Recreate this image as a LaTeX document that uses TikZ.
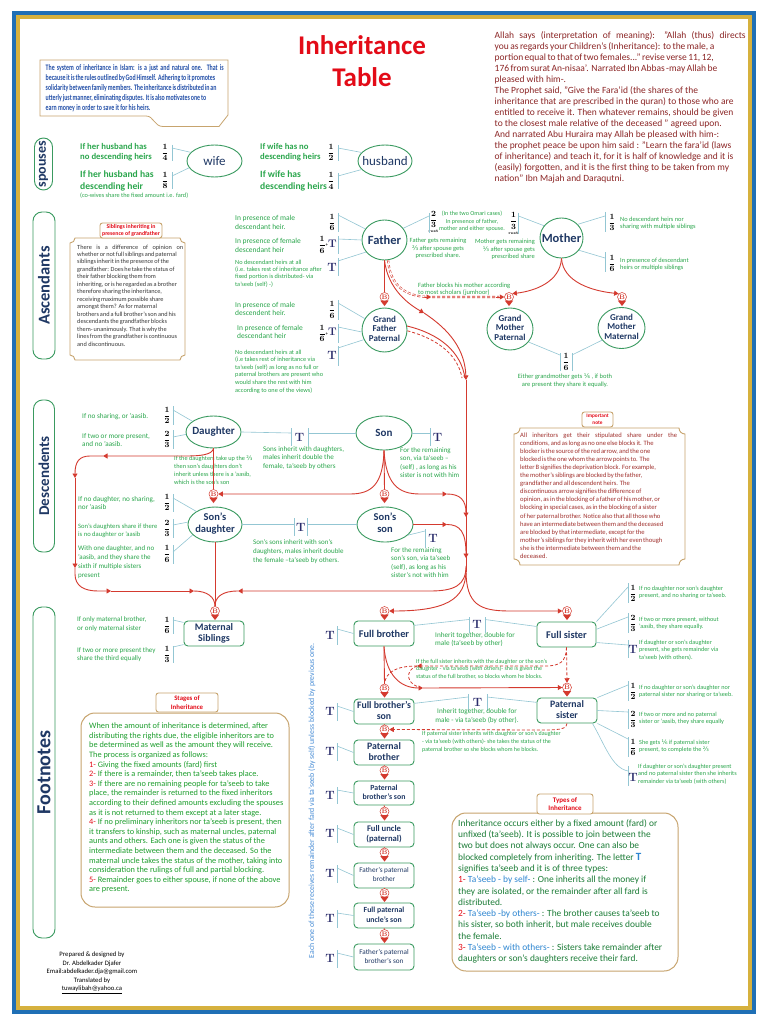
\documentclass[tikz,border=0pt]{standalone}
\usepackage{fontspec}
\setsansfont{Carlito}
\newfontfamily\myDV{DejaVu Sans}
\newfontfamily\myCond[FakeStretch=0.7]{Carlito}
\usetikzlibrary{arrows.meta,shapes.geometric}
\definecolor{navy}{HTML}{1F3864}
\definecolor{gtxt}{HTML}{2AA64C}
\definecolor{sgreen}{HTML}{1E9E2E}
\definecolor{tgreen}{HTML}{1C7C37}
\definecolor{gborder}{HTML}{3A9A60}
\definecolor{lblue}{HTML}{93C6D3}
\definecolor{rarrow}{HTML}{D43A2F}
\definecolor{tanc}{HTML}{C7A46E}
\definecolor{dred}{HTML}{8B2525}
\definecolor{nred}{HTML}{A0302D}
\definecolor{ttl}{HTML}{E30B17}
\definecolor{vblue}{HTML}{4A8ED6}
\definecolor{introblue}{HTML}{2450A8}
\definecolor{tblue}{HTML}{2E86D1}
\definecolor{tcol}{HTML}{2A2C6B}
\definecolor{txtgray}{HTML}{3A3A3A}
\definecolor{frblue}{HTML}{1F6FB5}
\definecolor{frgold}{HTML}{D6B13E}
\newcommand\myfs[2]{\fontsize{#1}{#2}\selectfont}
\newcommand\myT[1][12]{{\normalfont\bfseries\fontsize{#1}{#1}\selectfont T}}
\newlength\myjw
\newcommand\myjl[1]{\makebox[\myjw][s]{#1}\\}
\newcommand\myzb[1]{\makebox[0pt]{\begin{tabular}{@{}c@{}}#1\end{tabular}}}
\newcommand\myfrac[2]{{\myfs{8}{8}\boldmath$\displaystyle\frac{#1}{#2}$}}
\newcommand\myFr[4]{\node[frc] (#1) at (#2) {\myfrac{#3}{#4}};}
\newcommand\myFrT[2]{\node[frc, anchor=east] (#1) at (#2) {\myfrac{1}{6}\raisebox{0.5pt}{\sffamily\myfs{5}{5}+}\textcolor{tcol}{\myT[11]}};}
\newcommand\myB[2]{\node[bmk] (#1) at (#2) {B};\fill[rarrow] ([xshift=-4.2pt,yshift=1.2pt]#1.south) -- ([xshift=4.2pt,yshift=1.2pt]#1.south) -- ([yshift=-4.3pt]#1.south) -- cycle;}
\newcommand\mybar[3]{\draw[cn] (#1,#2) -- (#1,#3);}
\newcommand\mynotch[5]{\draw[tanc, line width=0.9pt] ({#1+#5},#2) -- ({#3-#5},#2) .. controls ({#3-#5},{#2+0.55*#5}) and ({#3-0.55*#5},{#2+#5}) .. (#3,{#2+#5}) -- (#3,{#4-#5}) .. controls ({#3-0.55*#5},{#4-#5}) and ({#3-#5},{#4-0.55*#5}) .. ({#3-#5},#4) -- ({#1+#5},#4) .. controls ({#1+#5},{#4-0.55*#5}) and ({#1+0.55*#5},{#4-#5}) .. (#1,{#4-#5}) -- (#1,{#2+#5}) .. controls ({#1+0.55*#5},{#2+#5}) and ({#1+#5},{#2+0.55*#5}) .. ({#1+#5},#2) -- cycle;}
\tikzset{
 heir/.style={ellipse, draw=gborder, line width=0.9pt, fill=white, text=navy, inner sep=0pt, align=center},
 hbox/.style={rectangle, rounded corners=4pt, draw=gborder, line width=0.9pt, fill=white, text=navy, inner sep=0pt, align=center, minimum width=60pt, minimum height=25pt},
 cn/.style={lblue, line width=0.6pt},
 gt/.style={anchor=north west, inner sep=0pt, align=left, text=gtxt},
 frc/.style={inner sep=0pt, text=black},
 tnode/.style={inner sep=0pt, text=tcol},
 rl/.style={rarrow, line width=0.9pt},
 ra/.style={rarrow, line width=0.9pt, -{Triangle[width=5pt,length=4.5pt]}},
 rd/.style={rarrow, line width=0.8pt, dash pattern=on 3pt off 2pt},
 rda/.style={rd, -{Triangle[width=5pt,length=4.5pt]}},
 bmk/.style={circle, draw=rarrow, line width=0.5pt, fill=white, text=rarrow, inner sep=0pt, minimum size=9pt, font=\normalfont\bfseries\fontsize{6.5}{6.5}\selectfont},
 secbox/.style={draw=gborder, line width=0.9pt, rounded corners=9pt, text=navy, rotate=90, inner sep=0pt},
 lbl/.style={draw=tanc, line width=0.9pt, fill=white, rounded corners=2.5pt, text=ttl, align=center, inner sep=0pt},
}
\begin{document}
\begin{tikzpicture}[x=1pt,y=-1pt]
\useasboundingbox (0,0) rectangle (768,1024);
\fill[white] (0,0) rectangle (768,1024);
% frame
\draw[frblue, line width=4pt] (14,13) rectangle (754,1012);
\draw[frgold, line width=2.6pt] (17.3,16.3) rectangle (750.7,1008.7);
\draw[frgold, line width=0.9pt] (19.7,18.6) rectangle (748.3,1006.4);
% title
\node[inner sep=0, align=center, text=ttl, font=\sffamily\bfseries\myfs{27}{32}] (title) at (362,61) {Inheritance\\Table};
% intro
\draw[tanc, line width=0.8pt] (40,60) -- (228,60) -- (228,115) -- (219,126.5) -- (163,126.5) .. controls (154,126.5) and (154,116) .. (146,116) -- (40,116) -- cycle;
\node[anchor=north west, inner sep=0, align=left, text=introblue, font=\myCond\bfseries\myfs{8.4}{10.1}] (intro) at (45.5,64.5) {\setlength\myjw{178pt}\myjl{The system of inheritance in Islam: is a just and natural one. That is}\myjl{because it is the rules outlined by God Himself. Adhering to it promotes}\myjl{solidarity between family members. The inheritance is distributed in an}\myjl{utterly just manner, eliminating disputes. It is also motivates one to}earn money in order to save it for his heirs.};
% quote
\node[anchor=north west, inner sep=0, align=left, text=dred, font=\sffamily\myfs{9.5}{11}] (quote) at (494.5,31.2) {\setlength\myjw{251pt}\myjl{Allah says (interpretation of meaning): "Allah (thus) directs}\myjl{you as regards your Children's (Inheritance): to the male, a}\myjl{portion equal to that of two females..." revise verse 11, 12,}\myjl{176 from surat An-nisaa'. Narrated Ibn Abbas -may Allah be}pleased with him-.\\The Prophet said, "Give the Fara'id (the shares of the\\inheritance that are prescribed in the quran) to those who are\\entitled to receive it. Then whatever remains, should be given\\to the closest male relative of the deceased " agreed upon.\\And narrated Abu Huraira may Allah be pleased with him-:\\the prophet peace be upon him said : "Learn the fara'id (laws\\of inheritance) and teach it, for it is half of knowledge and it is\\(easily) forgotten, and it is the first thing to be taken from my\\nation" Ibn Majah and Daraqutni.};
% section boxes
\node[secbox, minimum width=52pt, minimum height=18pt, font=\sffamily\bfseries\myfs{14}{14}] (spouses) at (43.5,164) {spouses};
\node[secbox, minimum width=147pt, minimum height=22pt, font=\sffamily\bfseries\myfs{16.5}{16.5}] (ascend) at (44,285.5) {Ascendants};
\node[secbox, minimum width=152pt, minimum height=21pt, font=\sffamily\bfseries\myfs{15}{15}] (descend) at (44,476) {Descendents};
\node[secbox, minimum width=331pt, minimum height=22pt, font=\sffamily\bfseries\myfs{20}{20}] (foot) at (44,772.5) {Footnotes};
% spouses
\node[gt, font=\sffamily\bfseries\myfs{8.7}{10}] (tw1) at (80,143.5) {If her husband has\\no descending heirs};
\node[gt, font=\sffamily\bfseries\myfs{9.6}{12}] (tw2) at (80,170.2) {If her husband has\\descending heir};
\node[gt, font=\sffamily\myfs{6.3}{7}] (tw3) at (80,192.5) {(co-wives share the fixed amount i.e. fard)};
\myFr{fw1}{165,152.5}{1}{4}
\myFr{fw2}{165,180.5}{1}{8}
\mybar{172}{145}{161}
\mybar{172}{172}{189}
\node[heir, minimum width=55pt, minimum height=32pt, font=\sffamily\myfs{13}{13}] (wife) at (214.5,161) {\makebox[0pt]{wife}};
\draw[cn] (172,148) -- (wife.160);
\draw[cn] (172,176) -- (wife.195);
\node[gt, font=\sffamily\bfseries\myfs{8.7}{10}] (th1) at (260,143.5) {If wife has no\\descending heirs};
\node[gt, font=\sffamily\bfseries\myfs{9.6}{12}] (th2) at (260,170.2) {If wife has\\descending heirs};
\myFr{fh1}{331,152.5}{1}{2}
\myFr{fh2}{331,181}{1}{4}
\mybar{338}{145}{161}
\mybar{338}{173}{189}
\node[heir, minimum width=54pt, minimum height=32pt, font=\sffamily\myfs{13}{13}] (husband) at (385,161) {\makebox[0pt]{husband}};
\draw[cn] (338,148) -- (husband.160);
\draw[cn] (338,176) -- (husband.200);
% siblings box
\mynotch{70}{238}{185}{360}{5}
\node[lbl, minimum width=62pt, minimum height=15pt, font=\sffamily\bfseries\myfs{5.8}{6.5}] (siblbl) at (131,230.5) {Siblings inheriting in\\presence of grandfather};
\node[anchor=north west, inner sep=0, align=left, text=txtgray, font=\sffamily\myfs{6.3}{7.46}] (sibtxt) at (77,244.5) {\setlength\myjw{106pt}\myjl{There is a difference of opinion on}\myjl{whether or not full siblings and paternal}\myjl{siblings inherit in the presence of the}\myjl{grandfather: Does he take the status of}\myjl{their father blocking them from}\myjl{inheriting, or is he regarded as a brother}\myjl{therefore sharing the inheritance,}\myjl{receiving maximum possible share}\myjl{amongst them? As for maternal}\myjl{brothers and a full brother's son and his}\myjl{descendants the grandfather blocks}\myjl{them- unanimously. That is why the}\myjl{lines from the grandfather is continuous}and discontinuous.};
% father
\node[gt, font=\sffamily\myfs{7.5}{8.8}] (tf1) at (235,215) {In presence of male\\descendant heir.};
\node[gt, font=\sffamily\myfs{7.5}{8.8}] (tf2) at (235,238) {In presence of female\\descendant heir};
\node[gt, font=\sffamily\myfs{6.3}{7.4}] (tf3) at (235,259.5) {No descendant heirs at all\\(i.e. takes rest of inheritance after\\fixed portion is distributed- via\\ta'seeb (self) -)};
\myFr{ff1}{332,222.5}{1}{6}
\myFrT{ff2}{337,245}
\node[tnode] (Tf3) at (332,267) {\myT};
\mybar{338}{213}{232}
\mybar{338}{236}{254}
\mybar{338}{258}{276}
\node[heir, minimum width=45pt, minimum height=40pt, font=\sffamily\bfseries\myfs{12.5}{12}] (father) at (384.5,240) {\makebox[0pt]{Father}};
\draw[cn] (338,215) -- (father.150);
\draw[cn] (338,239) -- (father.180);
\draw[cn] (338,261) -- (father.213);
\node[inner sep=0, align=center, text=gtxt, font=\sffamily\myfs{6.1}{7.5}] (omari) at (472,221.5) {(In the two Omari cases)\\In presence of father,\\mother and either spouse.};
\myFr{fo1}{433.5,219.5}{2}{3}
\node[inner sep=0, font=\normalfont\bfseries\myfs{4}{4}] (rest1) at (433.5,231.5) {rest};
\mybar{429}{213}{233}
\draw[cn] (father.32) -- (429,216);
\node[inner sep=0, align=center, text=gtxt, font=\sffamily\myfs{6.4}{7.6}] (fgets) at (438,248.5) {Father gets remaining\\{\myDV ⅔} after spouse gets\\prescribed share.};
\node[inner sep=0, align=right, anchor=east, text=gtxt, font=\sffamily\myfs{6.4}{7.6}] (mgets) at (535,249.5) {Mother gets remaining\\{\myDV ⅓} after spouse gets\\prescribed share};
\myFr{fm0}{513.5,221}{1}{3}
\node[inner sep=0, font=\normalfont\bfseries\myfs{4}{4}] (rest2) at (513.5,233) {rest};
\mybar{518.5}{213}{234}
\node[heir, minimum width=43pt, minimum height=40pt, font=\sffamily\bfseries\myfs{12.5}{12}] (mother) at (561.5,238) {\makebox[0pt]{Mother}};
\draw[cn] (518.5,216) -- (mother.145);
\mybar{605}{212}{232}
\mybar{605}{252}{272}
\myFr{fm1}{612,222.5}{1}{3}
\myFr{fm2}{612,263.5}{1}{6}
\draw[cn] (mother.40) -- (605,216);
\draw[cn] (mother.-35) -- (605,258);
\node[gt, font=\sffamily\myfs{6.4}{7.5}] (tm1) at (620,216.5) {No descendant heirs nor\\sharing with multiple siblings};
\node[gt, font=\sffamily\myfs{6.4}{7.5}] (tm2) at (620,257.5) {In presence of descendant\\heirs or multiple siblings};
% grandparents
\myB{bGF}{384.5,297}
\myB{bGMP}{509,297}
\myB{bGMM}{622,297}
\node[heir, minimum width=45pt, minimum height=44pt, font=\sffamily\bfseries\myfs{9}{9.6}] (gf) at (384.5,330) {\myzb{Grand\\Father\\Paternal}};
\node[heir, minimum width=46pt, minimum height=42pt, font=\sffamily\bfseries\myfs{9}{9.6}] (gmp) at (510,329) {\myzb{Grand\\Mother\\Paternal}};
\node[heir, minimum width=47pt, minimum height=41pt, font=\sffamily\bfseries\myfs{9}{9.6}] (gmm) at (621.5,328) {\myzb{Grand\\Mother\\Maternal}};
\node[gt, font=\sffamily\myfs{7.5}{8.2}] (tg1) at (235,302) {In presence of male\\descendent heir.};
\node[gt, font=\sffamily\myfs{7.5}{8.2}] (tg2) at (237,325) {In presence of female\\descendant heir};
\node[gt, font=\sffamily\myfs{6.3}{7.6}] (tg3) at (235,349.5) {No descendant heirs at all\\(i.e takes rest of inheritance via\\ta'seeb (self) as long as no full or\\paternal brothers are present who\\would share the rest with him\\according to one of the views)};
\myFr{fg1}{332,310}{1}{6}
\myFrT{fg2}{337,333.5}
\node[tnode] (Tg3) at (332,355) {\myT};
\mybar{338}{300}{320}
\mybar{338}{324}{343}
\mybar{338}{346}{366}
\draw[cn] (338,303) -- (gf.150);
\draw[cn] (338,327) -- (gf.185);
\draw[cn] (338,348) -- (gf.205);
\myFr{fgm}{566,362}{1}{6}
\mybar{560}{353}{371}
\mybar{572}{353}{371}
\draw[cn] (gmp.-35) -- (560,355);
\draw[cn] (gmm.212) -- (572,355);
\node[inner sep=0, align=center, text=gtxt, font=\sffamily\myfs{6.5}{7.6}] (tgm) at (565,380.5) {Either grandmother gets {\myDV ⅙} , if both\\are present they share it equally.};
\node[gt, font=\sffamily\myfs{6.5}{7.4}] (fblk) at (418,282.5) {Father blocks his mother according\\to most scholars (jumhoor)};
% red arrows ascendants
\draw[rl] (father.south) -- (bGF.north);
\draw[ra] (father.south) .. controls (388,290) and (410,305) .. (424,313);
\draw[ra] (424,313) .. controls (450,330) and (465,350) .. (466,380);
\draw[rl] (466,380) -- (466,572);
\draw[rarrow, line width=0.6pt, dash pattern=on 3pt off 2pt, double=white, double distance=0.9pt] (father.-80) .. controls (390,285) and (405,297) .. (430,297) -- (499,297);
\draw[ra] (425,297) -- (431,297);
\draw[ra] (496,297) -- (bGMP.west);
\draw[rl] (gf.10) .. controls (440,334) and (461,352) .. (465,378);
\draw[rd] (gf.-2) .. controls (438,339) and (458,355) .. (462,378);
\draw[ra] (mother.south) .. controls (560,282) and (535,291) .. (bGMP.north east);
\draw[ra] (mother.south) .. controls (563,282) and (592,291) .. (bGMM.north west);
% descendants
\node[gt, font=\sffamily\myfs{7.2}{8}] (td1) at (82,413) {If no sharing, or 'aasib.};
\node[gt, font=\sffamily\myfs{7.2}{8.3}] (td2) at (82,433) {If two or more present,\\and no 'aasib.};
\myFr{fd1}{167,415.5}{1}{2}
\myFr{fd2}{167,439.5}{2}{3}
\mybar{173}{406}{425}
\mybar{173}{430}{449}
\node[heir, minimum width=55pt, minimum height=32pt, font=\sffamily\bfseries\myfs{11}{11}] (daughter) at (213.5,432) {\makebox[0pt]{Daughter}};
\draw[cn] (173,410) -- (daughter.153);
\draw[cn] (173,437) -- (daughter.185);
\draw[cn] (daughter.east) -- (291,433);
\mybar{291}{428}{446}
\node[tnode] (Tds) at (299.5,437) {\myT};
\mybar{308}{428}{446}
\node[heir, minimum width=56pt, minimum height=34pt, font=\sffamily\bfseries\myfs{11}{11}] (son) at (384,433) {\makebox[0pt]{Son}};
\draw[cn] (308,433) -- (son.west);
\node[gt, font=\sffamily\myfs{7.1}{8.8}] (tds) at (263,446) {Sons inherit with daughters,\\males inherit double the\\female, ta'seeb by others};
\draw[cn] (son.east) -- (430,433);
\mybar{430}{428}{446}
\node[tnode] (Ts) at (437.5,437) {\myT};
\node[gt, font=\sffamily\myfs{7}{8.6}] (ts) at (400,447) {For the remaining\\son, via ta'seeb –\\(self) , as long as his\\sister is not with him};
\node[gt, font=\sffamily\myfs{6.3}{8}] (tdd) at (174,455.5) {If the daughters take up the {\myDV ⅔}\\then son's daughters don't\\inherit unless there is a 'aasib,\\which is the son's son};
\myB{bSD}{213.5,494}
\myB{bSS}{384.5,494}
\node[heir, minimum width=54pt, minimum height=35pt, font=\sffamily\bfseries\myfs{10.5}{12}] (sd) at (215,524.5) {\myzb{Son's\\daughter}};
\node[heir, minimum width=56pt, minimum height=35pt, font=\sffamily\bfseries\myfs{10.5}{12}] (ss) at (385,524.5) {\myzb{Son's\\son}};
\node[gt, font=\sffamily\myfs{7.2}{8}] (tsd1) at (78,496) {If no daughter, no sharing,\\nor 'aasib};
\node[gt, font=\sffamily\myfs{6.6}{8}] (tsd2) at (78,523.3) {Son's daughters share if there\\is no daughter or 'aasib};
\node[gt, font=\sffamily\myfs{7}{9}] (tsd3) at (78,545.2) {With one daughter, and no\\'aasib, and they share the\\sixth if multiple sisters\\present};
\myFr{fsd1}{167,502.5}{1}{2}
\myFr{fsd2}{167,528.5}{2}{3}
\myFr{fsd3}{167,554}{1}{6}
\mybar{173}{494}{512}
\mybar{173}{519}{538}
\mybar{173}{545}{564}
\draw[cn] (173,498) -- (sd.145);
\draw[cn] (173,525) -- (sd.175);
\draw[cn] (173,552) -- (sd.205);
\draw[cn] (sd.east) -- (294,524.5);
\mybar{294}{518}{536}
\node[tnode] (Tsds) at (300.8,527.5) {\myT};
\mybar{307.5}{518}{536}
\draw[cn] (307.5,524.5) -- (ss.west);
\node[gt, font=\sffamily\myfs{7}{9}] (tsds) at (253,539) {Son's sons inherit with son's\\daughters, males inherit double\\the female –ta'seeb by others.};
\draw[cn] (ss.-25) -- (425,531);
\mybar{425}{529}{548}
\node[tnode] (Tss) at (433,538) {\myT};
\node[gt, font=\sffamily\myfs{7}{8.5}] (tss) at (391,547.3) {For the remaining\\son's son, via ta'seeb\\(self), as long as his\\sister's not with him};
% red descendants
\myB{bMS}{215,611}
\draw[rl] (daughter.south) -- (bSD.north);
\draw[ra] (daughter.south) .. controls (212,455) and (200,456) .. (185,456) -- (103,456);
\draw[ra] (103,456) -- (90,456) .. controls (79,456) and (75,462) .. (75,478);
\draw[ra] (75,478) -- (75,568);
\draw[ra] (75,568) -- (75,574) .. controls (75,586) and (84,591) .. (98,591) -- (111,591);
\draw[ra] (111,591) -- (194,591);
\draw[rl] (194,591) .. controls (207,591) and (215,597) .. (bMS.north);
\draw[rl] (son.south) -- (bSS.north);
\draw[ra] (son.south) .. controls (383,484) and (372,494) .. (350,494) -- (bSD.east);
\draw[ra] (son.south) .. controls (386,484) and (398,494) .. (420,494) -- (447,494);
\draw[ra] (447,494) .. controls (460,494) and (466,500) .. (466,517);
\draw[ra] (ss.east) -- (447,524.5);
\draw[ra] (447,524.5) .. controls (460,524.5) and (466,532) .. (466,558);
\draw[rl] (sd.south) -- (bMS.north);
\draw[ra] (466,566) .. controls (466,585) and (455,591) .. (430,591) -- (238,591);
\draw[rl] (238,591) .. controls (222,591) and (215,597) .. (bMS.north);
% maternal siblings
\node[hbox, font=\sffamily\bfseries\myfs{10}{11.5}] (ms) at (214,633.5) {\myzb{Maternal\\Siblings}};
\node[gt, font=\sffamily\myfs{7}{9}] (tms1) at (77,616.2) {If only maternal brother,\\or only maternal sister};
\node[gt, font=\sffamily\myfs{7}{8.2}] (tms2) at (77,647.2) {If two or more present they\\share the third equally};
\myFr{fms1}{167,625.5}{1}{6}
\myFr{fms2}{167,654.5}{1}{3}
\mybar{173}{617}{634}
\mybar{173}{646}{663}
\draw[cn] (173,620) -- (ms.160);
\draw[cn] (173,647) -- (ms.200);
% stages
\draw[tanc, line width=1pt, rounded corners=14pt] (81,713) rectangle (289,907);
\node[lbl, minimum width=62pt, minimum height=19pt, font=\sffamily\bfseries\myfs{6.8}{9}] (stlbl) at (187,702.5) {Stages of\\Inheritance};
\node[anchor=north west, inner sep=0, align=left, text=sgreen, font=\sffamily\myfs{8.3}{9.6}] (sttxt) at (89,722.8) {When the amount of inheritance is determined, after\\distributing the rights due, the eligible inheritors are to\\be determined as well as the amount they will receive.\\The process is organized as follows:\\\textcolor{ttl}{1-} Giving the fixed amounts (fard) first\\\textcolor{ttl}{2-} If there is a remainder, then ta'seeb takes place.\\\textcolor{ttl}{3-} If there are no remaining people for ta'seeb to take\\place, the remainder is returned to the fixed inheritors\\according to their defined amounts excluding the spouses\\as it is not returned to them except at a later stage.\\\textcolor{ttl}{4-} If no preliminary inheritors nor ta'seeb is present, then\\it transfers to kinship, such as maternal uncles, paternal\\aunts and others. Each one is given the status of the\\intermediate between them and the deceased. So the\\maternal uncle takes the status of the mother, taking into\\consideration the rulings of full and partial blocking.\\\textcolor{ttl}{5-} Remainder goes to either spouse, if none of the above\\are present.};
% credits
\node[inner sep=0, align=center, font=\sffamily\myfs{6.7}{8.5}] (credit) at (92,973) {Prepared \& designed by\\Dr. Abdelkader Djafer\\Email:abdelkader.dja@gmail.com\\Translated by\\\underline{tuwaylibah@yahoo.ca}};
% vertical blue note
\node[rotate=90, inner sep=0, text=vblue, font=\sffamily\myfs{7.8}{8}] (vtxt) at (312,801) {Each one of these receives remainder after fard via ta'seeb (by self) unless blocked by previous one.};
% paternal line
\myB{bFB}{384.5,611}
\myB{bFS}{567,611}
\draw[ra] (466,570) .. controls (466,600) and (445,611) .. (bFB.east);
\draw[ra] (466,570) .. controls (466,605) and (480,611) .. (510,611) -- (bFS.west);
\node[hbox, font=\sffamily\bfseries\myfs{10.3}{11}] (fb) at (384,633.5) {Full brother};
\node[hbox, minimum width=59pt, font=\sffamily\bfseries\myfs{10.3}{11}] (fs) at (566.5,634.5) {Full sister};
\draw[cn] (fb.15) -- (469,619.5);
\mybar{469}{617}{633}
\node[tnode] (Tfbs) at (477,624) {\myT};
\mybar{485}{617}{633}
\draw[cn] (485,619.5) -- (fs.165);
\node[gt, font=\sffamily\myfs{7.2}{8.5}] (tfbs) at (435,632) {Inherit together, double for\\male (ta'seeb by other)};
\node[tnode] (Tfb) at (330,635) {\myT};
\mybar{337}{626}{645}
\draw[cn] (337,629) -- (fb.west);
\mybar{628}{583}{603}
\mybar{628}{613}{633}
\mybar{628}{640}{658}
\myFr{ffs1}{633,593.5}{1}{2}
\myFr{ffs2}{633,623.5}{2}{3}
\node[tnode] (Tfs3) at (633,649) {\myT};
\draw[cn] (fs.north east) -- (628,587);
\draw[cn] (fs.10) -- (628,617);
\draw[cn] (fs.-15) -- (628,645);
\node[gt, font=\sffamily\myfs{6.2}{7.8}] (tfs1) at (639,585.5) {If no daughter nor son's daughter\\present, and no sharing or ta'seeb.};
\node[gt, font=\sffamily\myfs{6.2}{7.8}] (tfs2) at (639,616.5) {If two or more present, without\\'aasib, they share equally.};
\node[gt, font=\sffamily\myfs{6.2}{7.8}] (tfs3) at (639,639.5) {If daughter or son's daughter\\present, she gets remainder via\\ta'seeb (with others).};
\myB{bFBS}{384.5,688.5}
\myB{bPS}{567,687.5}
\draw[rl] (fb.south) -- (bFBS.north);
\draw[ra] (fb.south) .. controls (386,675) and (400,688) .. (423,688);
\draw[ra] (423,688) -- (bPS.west);
\draw[rda] (fs.south) -- (bPS.north);
\draw[rda] (fs.south) .. controls (566,662) and (560,666) .. (545,666) -- (417,666);
\draw[rd] (417,666) .. controls (396,666) and (386,672) .. (bFBS.north);
\draw[rd] (417,666) .. controls (404,670) and (406,686) .. (423,688);
\node[gt, font=\sffamily\myfs{6}{7.8}] (tfsx) at (416,658.6) {If the full sister inherits with the daughter or the son's\\daughter - via ta'seeb (with others)- she is given the\\status of the full brother, so blocks whom he blocks.};
\node[hbox, font=\sffamily\bfseries\myfs{9.8}{11}] (fbs) at (384,711.5) {\myzb{Full brother's\\son}};
\node[hbox, font=\sffamily\bfseries\myfs{9.8}{11}] (ps) at (567,710.5) {\myzb{Paternal\\sister}};
\draw[cn] (fbs.15) -- (468,697);
\mybar{468}{694}{711}
\node[tnode] (Tfbsps) at (477.5,702) {\myT};
\mybar{487}{694}{711}
\draw[cn] (487,697) -- (ps.165);
\node[inner sep=0, align=center, text=gtxt, font=\sffamily\myfs{7.2}{9}] (tfbsps) at (477,716.5) {Inherit together, double for\\male - via ta'seeb (by other).};
\node[tnode] (Tfbs2) at (330,711) {\myT};
\mybar{337}{703}{721}
\draw[cn] (337,706) -- (fbs.west);
\mybar{628}{681}{701}
\mybar{628}{709}{729}
\mybar{628}{737}{757}
\mybar{628}{766}{786}
\myFr{fps1}{633,691.5}{1}{2}
\myFr{fps2}{633,719.5}{2}{3}
\myFr{fps3}{633,747.5}{1}{6}
\node[tnode] (Tps4) at (633,777) {\myT};
\draw[cn] (ps.north east) -- (628,685);
\draw[cn] (ps.east) -- (628,712);
\draw[cn] (ps.south east) -- (628,739);
\draw[cn] ([xshift=-5pt]ps.south east) .. controls (605,745) and (612,768) .. (628,771);
\node[gt, font=\sffamily\myfs{6.2}{7.5}] (tps1) at (639,684.5) {If no daughter or son's daughter nor\\paternal sister nor sharing or ta'seeb.};
\node[gt, font=\sffamily\myfs{6.2}{7.5}] (tps2) at (639,711.5) {If two or more and no paternal\\sister or 'aasib, they share equally};
\node[gt, font=\sffamily\myfs{6.2}{7.5}] (tps3) at (639,739.5) {She gets {\myDV ⅙} if paternal sister\\present, to complete the {\myDV ⅔}};
\node[gt, font=\sffamily\myfs{6.2}{7.5}] (tps4) at (638,763.5) {If daughter or son's daughter present\\and no paternal sister then she inherits\\remainder via ta'seeb (with others)};
\myB{bPB}{384.5,729.5}
\draw[rda] (ps.south) .. controls (567,728) and (562,730) .. (545,730) -- (bPB.east);
\node[gt, font=\sffamily\myfs{6}{8}] (tpsx) at (422,731.5) {If paternal sister inherits with daughter or son's daughter\\- via ta'seeb (with others)- she takes the status of the\\paternal brother so she blocks whom he blocks.};
\draw[rl] (fbs.south) -- (bPB.north);
\node[hbox, font=\sffamily\bfseries\myfs{9.8}{11}] (pb) at (384,752.5) {\myzb{Paternal\\brother}};
\node[tnode] (Tpb) at (330,751) {\myT};
\mybar{337}{743}{761}
\draw[cn] (337,746) -- (pb.west);
\myB{bPBS}{384.5,770.5}
\draw[rl] (pb.south) -- (bPBS.north);
\node[hbox, minimum height=24pt, font=\sffamily\bfseries\myfs{7.8}{9}] (pbs) at (384,793) {\myzb{Paternal\\brother's son}};
\node[tnode] (Tpbs) at (330,795) {\myT};
\mybar{337}{787}{804}
\draw[cn] (337,790) -- (pbs.west);
\myB{bFU}{384.5,811.5}
\draw[rl] (pbs.south) -- (bFU.north);
\node[hbox, font=\sffamily\bfseries\myfs{8.6}{10}] (fu) at (384,834.5) {\myzb{Full uncle\\(paternal)}};
\node[tnode] (Tfu) at (330,833) {\myT};
\mybar{337}{825}{843}
\draw[cn] (337,828) -- (fu.west);
\myB{bFPB}{384.5,852.5}
\draw[rl] (fu.south) -- (bFPB.north);
\node[hbox, font=\sffamily\myfs{7.2}{9}] (fpb) at (384,875.5) {\myzb{Father's paternal\\brother}};
\node[tnode] (Tfpb) at (330,873) {\myT};
\mybar{337}{865}{883}
\draw[cn] (337,868) -- (fpb.west);
\myB{bFPUS}{384.5,893}
\draw[rl] (fpb.south) -- (bFPUS.north);
\node[hbox, font=\sffamily\bfseries\myfs{7.8}{9.5}] (fpus) at (384,915.5) {\myzb{Full paternal\\uncle's son}};
\node[tnode] (Tfpus) at (330,918) {\myT};
\mybar{337}{910}{928}
\draw[cn] (337,913) -- (fpus.west);
\myB{bFPBS}{384.5,934}
\draw[rl] (fpus.south) -- (bFPBS.north);
\node[hbox, minimum height=26pt, font=\sffamily\myfs{7.2}{9}] (fpbs) at (384,957) {\myzb{Father's paternal\\brother's son}};
\node[tnode] (Tfpbs) at (330,958) {\myT};
\mybar{337}{950}{968}
\draw[cn] (337,953) -- (fpbs.west);
% important note
\mynotch{514}{428}{685}{565}{6}
\node[lbl, minimum width=31pt, minimum height=15pt, font=\sffamily\bfseries\myfs{5.3}{6.5}] (implbl) at (597.5,419.5) {Important\\note};
\node[anchor=north west, inner sep=0, align=left, text=nred, font=\sffamily\myfs{6.6}{8.1}] (imptxt) at (520,432.3) {\setlength\myjw{157pt}\myjl{All inheritors get their stipulated share under the}\myjl{conditions, and as long as no one else blocks it. The}\myjl{blocker is the source of the red arrow, and the one}\myjl{blocked is the one whom the arrow points to. The}\myjl{letter B signifies the deprivation block. For example,}\myjl{the mother's siblings are blocked by the father,}\myjl{grandfather and all descendent heirs. The}\myjl{discontinuous arrow signifies the difference of}\myjl{opinion, as in the blocking of a father of his mother, or}\myjl{blocking in special cases, as in the blocking of a sister}\myjl{of her paternal brother. Notice also that all those who}\myjl{have an intermediate between them and the deceased}\myjl{are blocked by that intermediate, except for the}\myjl{mother's siblings for they inherit with her even though}\myjl{she is the intermediate between them and the}deceased.};
% types
\draw[tanc, line width=1pt, rounded corners=14pt] (452,813) rectangle (678,971);
\node[lbl, minimum width=56pt, minimum height=20pt, font=\sffamily\bfseries\myfs{7}{8.5}] (tylbl) at (565,804) {Types of\\Inheritance};
\node[anchor=north west, inner sep=0, align=left, text=tgreen, font=\sffamily\myfs{9.4}{11.3}] (tytxt) at (458,819.2) {Inheritance occurs either by a fixed amount (fard) or\\unfixed (ta'seeb). It is possible to join between the\\two but does not always occur. One can also be\\blocked completely from inheriting. The letter \textcolor{tblue}{\bfseries\myfs{11}{11.3}T}\\signifies ta'seeb and it is of three types:\\\textcolor{ttl}{1-} \textcolor{tblue}{Ta'seeb - by self-} : One inherits all the money if\\they are isolated, or the remainder after all fard is\\distributed.\\\textcolor{ttl}{2-} \textcolor{tblue}{Ta'seeb -by others-} : The brother causes ta'seeb to\\his sister, so both inherit, but male receives double\\the female.\\\textcolor{ttl}{3-} \textcolor{tblue}{Ta'seeb - with others-} : Sisters take remainder after\\daughters or son's daughters receive their fard.};
\end{tikzpicture}
\end{document}
